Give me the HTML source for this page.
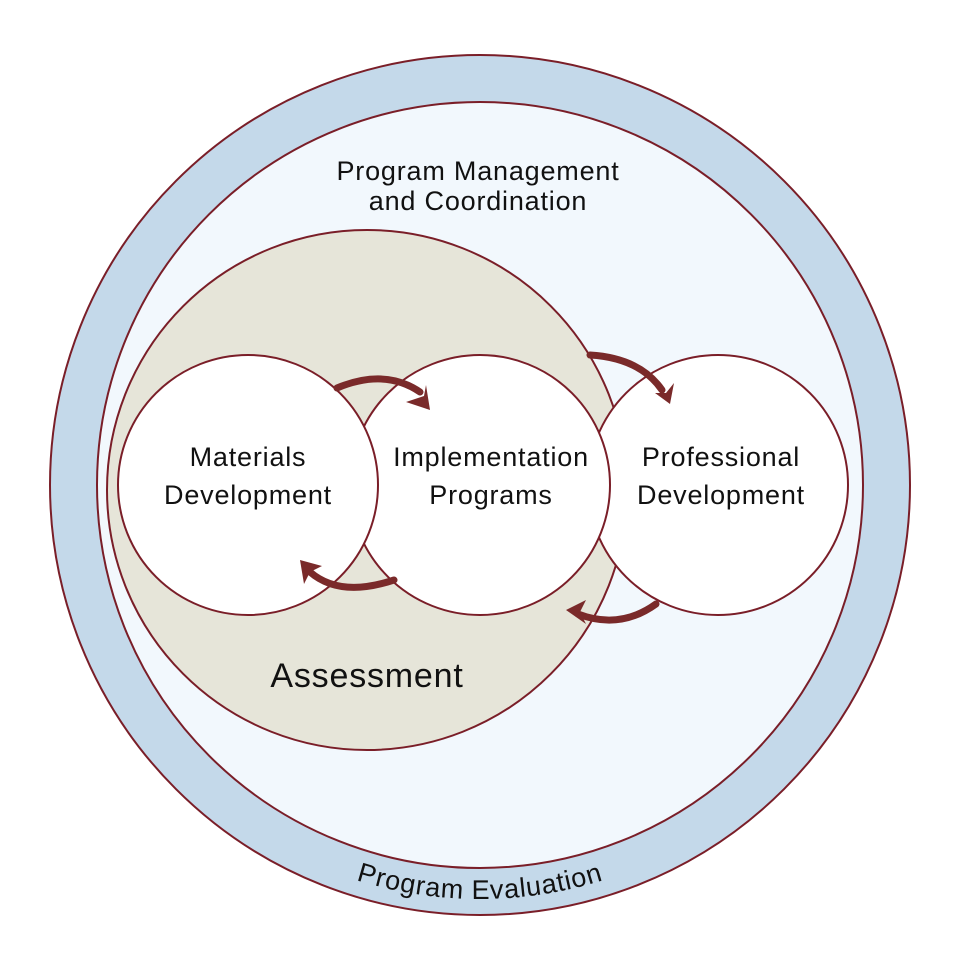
<!DOCTYPE html>
<html><head><meta charset="utf-8"><style>html,body{margin:0;padding:0;background:#fff}svg{display:block}</style></head>
<body>
<svg width="957" height="972" viewBox="0 0 957 972" xmlns="http://www.w3.org/2000/svg" font-family="'Liberation Sans', sans-serif">
<circle cx="480" cy="485" r="430" fill="#c4d9ea" stroke="#7a1e28" stroke-width="2"/>
<circle cx="480" cy="485" r="383" fill="#f2f8fd" stroke="#7a1e28" stroke-width="2"/>
<circle cx="367" cy="490" r="260" fill="#e6e5d9" stroke="#7a1e28" stroke-width="2"/>
<circle cx="718" cy="485" r="130" fill="#fff" stroke="#7a1e28" stroke-width="2"/>
<circle cx="480" cy="485" r="130" fill="#fff" stroke="#7a1e28" stroke-width="2"/>
<circle cx="248" cy="485" r="130" fill="#fff" stroke="#7a1e28" stroke-width="2"/>
<g fill="none" stroke="#7a2a2a" stroke-linecap="round">
<path d="M337 388 Q385 368 420 392" stroke-width="7"/>
<path d="M590 355 Q640 358 662 390" stroke-width="7"/>
<path d="M394 580 Q340 598 310 572" stroke-width="7"/>
<path d="M656 604 Q620 630 578 614" stroke-width="7"/>
</g>
<g fill="#7a2a2a">
<polygon points="430,410 406,402 424,396 426,385"/>
<polygon points="670,404 655,393 666,393 674,383"/>
<polygon points="300,560 322,566 310,572 304,584"/>
<polygon points="566,610 586,600 580,612 586,624"/>
</g>
<g font-size="27" fill="#111" text-anchor="middle" letter-spacing="0.8">
<text x="478" y="180">Program Management</text>
<text x="478" y="210">and Coordination</text>
<text x="248" y="466">Materials</text>
<text x="248" y="504">Development</text>
<text x="491" y="466">Implementation</text>
<text x="491" y="504">Programs</text>
<text x="721" y="466">Professional</text>
<text x="721" y="504">Development</text>
<text x="367" y="687" font-size="34">Assessment</text>
</g>
<path id="arc" d="M66 485 A414 414 0 0 0 894 485" fill="none"/>
<text font-size="27" fill="#111" letter-spacing="0.8"><textPath href="#arc" startOffset="50%" text-anchor="middle">Program Evaluation</textPath></text>
</svg>
</body></html>
